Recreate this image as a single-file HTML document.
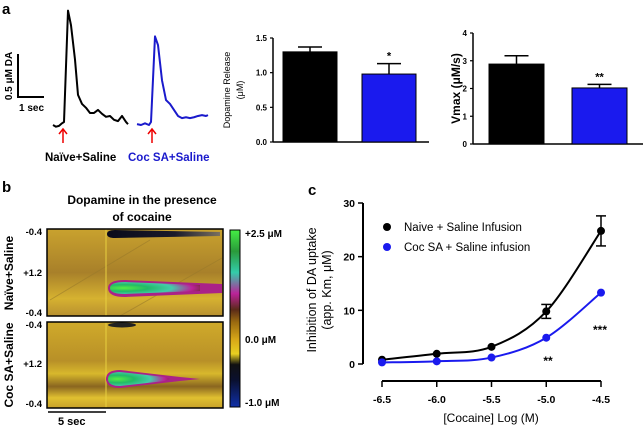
<!DOCTYPE html>
<html><head><meta charset="utf-8"><style>
body{margin:0;background:#fff;}
svg{display:block;font-family:"Liberation Sans",Arial,sans-serif;}
.b{font-weight:bold}
</style></head><body>
<svg id="fig" width="643" height="428" viewBox="0 0 643 428" xmlns="http://www.w3.org/2000/svg">
<defs>
<linearGradient id="cbar" x1="0" y1="0" x2="0" y2="1">
<stop offset="0" stop-color="#44ee44"/><stop offset="0.12" stop-color="#2a9a3a"/><stop offset="0.24" stop-color="#33ccaa"/>
<stop offset="0.36" stop-color="#bb2299"/><stop offset="0.45" stop-color="#5a2a18"/><stop offset="0.52" stop-color="#9a6a10"/>
<stop offset="0.62" stop-color="#d8a818"/><stop offset="0.7" stop-color="#e8d020"/><stop offset="0.76" stop-color="#111"/>
<stop offset="0.85" stop-color="#0a1030"/><stop offset="1" stop-color="#1030a8"/>
</linearGradient>
<linearGradient id="bg1" x1="0" y1="0" x2="0" y2="1">
<stop offset="0" stop-color="#c9a22e"/><stop offset="0.5" stop-color="#a8802a"/><stop offset="0.8" stop-color="#d6b230"/><stop offset="1" stop-color="#b89030"/>
</linearGradient>
<linearGradient id="bg2" x1="0" y1="0" x2="0" y2="1">
<stop offset="0" stop-color="#d0aa2a"/><stop offset="0.45" stop-color="#b89028"/><stop offset="0.6" stop-color="#d8b82c"/><stop offset="0.75" stop-color="#8a6620"/><stop offset="0.88" stop-color="#e0c030"/><stop offset="1" stop-color="#c8a22a"/>
</linearGradient>
<radialGradient id="blob" cx="0.15" cy="0.5" r="0.9">
<stop offset="0" stop-color="#55ee44"/><stop offset="0.3" stop-color="#22bb66"/><stop offset="0.6" stop-color="#44ccaa"/><stop offset="0.85" stop-color="#bb2299"/><stop offset="1" stop-color="#7a2a40"/>
</radialGradient>
<linearGradient id="band" x1="0" y1="0" x2="1" y2="0">
<stop offset="0" stop-color="#0a0a1a"/><stop offset="0.6" stop-color="#1a1a2a"/><stop offset="1" stop-color="#7a7060"/>
</linearGradient>
</defs>

<text x="2" y="14" class="b" font-size="15">a</text>
<g>
<line x1="18" y1="54" x2="18" y2="98" stroke="#000" stroke-width="2"/>
<line x1="17" y1="97" x2="44" y2="97" stroke="#000" stroke-width="2"/>
<text transform="translate(12,76) rotate(-90)" text-anchor="middle" font-size="10" class="b">0.5 μM DA</text>
<text x="19" y="111" font-size="10" class="b">1 sec</text>
</g>
<g id="traces"></g>
<g stroke="#e00" stroke-width="1.5" fill="none">
<line x1="63" y1="143" x2="63" y2="130"/><polyline points="59,134 63,129 67,134"/>
<line x1="152" y1="143" x2="152" y2="130"/><polyline points="148,134 152,129 156,134"/>
</g>
<text x="45" y="161" font-size="11.5" class="b">Naïve+Saline</text>
<text x="128" y="161" font-size="11.5" class="b" fill="#1a1acc">Coc SA+Saline</text>

<g id="bar1"></g>
<g id="bar2"></g>

<text x="2" y="192" class="b" font-size="15">b</text>
<text x="142" y="204" text-anchor="middle" font-size="12" class="b">Dopamine in the presence</text>
<text x="142" y="221" text-anchor="middle" font-size="12" class="b">of cocaine</text>
<g>
<rect x="47" y="229" width="176" height="87" fill="url(#bg1)"/>
<line x1="50" y1="300" x2="150" y2="240" stroke="#9a7a2a" stroke-width="1" opacity="0.6"/>
<line x1="120" y1="316" x2="222" y2="258" stroke="#9a7a2a" stroke-width="1" opacity="0.6"/>
<line x1="106" y1="229" x2="106" y2="316" stroke="#e8d040" stroke-width="1"/>
<path d="M107,234 Q107,230 115,230 L220,232 L220,236 L115,238 Q107,238 107,234Z" fill="url(#band)"/>
<path d="M108,288 Q108,280 125,280 L222,284 L222,293 L125,297 Q108,297 108,288Z" fill="#aa2288"/>
<path d="M110,288 Q110,282 125,282 L200,285 L200,291 L125,294 Q110,294 110,288Z" fill="url(#blob)"/>
<rect x="47" y="229" width="176" height="87" fill="none" stroke="#000" stroke-width="1.5"/>
</g>
<g>
<rect x="47" y="322" width="176" height="86" fill="url(#bg2)"/>
<line x1="106" y1="322" x2="106" y2="408" stroke="#e8d040" stroke-width="1"/>
<ellipse cx="122" cy="325" rx="14" ry="2.5" fill="#222"/>
<path d="M106,379 Q106,370 120,370 L180,377 L200,379 L180,381 L120,388 Q106,388 106,379Z" fill="#aa2288"/>
<path d="M108,379 Q108,372 120,372 L165,377 L170,379 L165,381 L120,386 Q108,386 108,379Z" fill="url(#blob)"/>
<rect x="47" y="322" width="176" height="86" fill="none" stroke="#000" stroke-width="1.5"/>
</g>
<g font-size="9.5" class="b" text-anchor="end">
<text x="42" y="235">-0.4</text><text x="42" y="276">+1.2</text><text x="42" y="316">-0.4</text>
<text x="42" y="328">-0.4</text><text x="42" y="367">+1.2</text><text x="42" y="407">-0.4</text>
</g>
<text transform="translate(13,273) rotate(-90)" text-anchor="middle" font-size="12" class="b">Naïve+Saline</text>
<text transform="translate(13,365) rotate(-90)" text-anchor="middle" font-size="12" class="b">Coc SA+Saline</text>
<line x1="48" y1="412" x2="106" y2="412" stroke="#000" stroke-width="1.5"/>
<text x="58" y="425" font-size="11" class="b">5 sec</text>
<g>
<rect x="230" y="230" width="10" height="177" fill="url(#cbar)" stroke="#000" stroke-width="1"/>
<text x="245" y="237" font-size="10" class="b">+2.5 μM</text>
<text x="245" y="343" font-size="10" class="b">0.0 μM</text>
<text x="245" y="406" font-size="10" class="b">-1.0 μM</text>
</g>

<text x="308" y="195" class="b" font-size="15">c</text>
<g id="curve"></g>
</svg>
<script>
const blackT=[53,56,59,62,64,68,71,75,78,82,86,90,94,98,102,106,110,114,118,122,126,128];
const blackV=[0,-0.02,-0.01,0.02,0.035,1.33,1.16,0.76,0.35,0.245,0.2,0.14,0.14,0.175,0.13,0.095,0.105,0.06,0.045,0.105,0.035,0.01];
const blueT=[137,141,145,149,151,155,158,162,166,170,174,178,182,186,190,194,198,202,206,208];
const blueV=[0.01,0,0.02,0,0.035,1.03,0.93,0.52,0.29,0.245,0.175,0.105,0.08,0.09,0.08,0.09,0.105,0.115,0.105,0.115];
const groups=["Naive+Saline","Coc SA+Saline"];
const releaseVals=[1.30,0.98];
const releaseErr=[0.07,0.15];
const releaseTicks=["0.0","0.5","1.0","1.5"];
const vmaxVals=[2.88,2.02];
const vmaxErr=[0.30,0.13];
const vmaxTicks=["0","1","2","3","4"];
const cocLog=[-6.5,-6.0,-5.5,-5.0,-4.5];
const naiveInh=[0.8,1.9,3.2,9.8,24.8];
const naiveErr=[0,0,0,1.3,2.8];
const cocInh=[0.3,0.5,1.2,4.9,13.3];
const xTicks=["-6.5","-6.0","-5.5","-5.0","-4.5"];
const yTicks=["0","10","20","30"];

const NS="http://www.w3.org/2000/svg";
function mk(tag,attrs,parent){const e=document.createElementNS(NS,tag);for(const k in attrs)e.setAttribute(k,attrs[k]);parent.appendChild(e);return e;}

const tr=document.getElementById('traces');
function traceY(v){return 125-v*86;}
function drawTrace(T,V,col,name){
  const p=mk('polyline',{points:T.map((t,i)=>t+','+traceY(V[i])).join(' '),fill:'none',stroke:col,'stroke-width':2,'stroke-linejoin':'round'},tr);
  
  
}
drawTrace(blackT,blackV,'#000','naive-trace');
drawTrace(blueT,blueV,'#1a1acc','coc-trace');

function barChart(g,vals,err,ticks,maxV,x0,x1,yTop,yBot,bars,stars,label,labelX,labelSize,bold){
  const y=v=>yBot-(v/maxV)*(yBot-yTop);
  mk('line',{x1:x0,y1:yTop,x2:x0,y2:yBot,stroke:'#000','stroke-width':1.5},g);
  mk('line',{x1:x0,y1:yBot,x2:x1,y2:yBot,stroke:'#000','stroke-width':1.5},g);
  ticks.forEach(t=>{const v=parseFloat(t);const yy=y(v);
    mk('line',{x1:x0-3,y1:yy,x2:x0,y2:yy,stroke:'#000','stroke-width':1.2},g);
    const tx=mk('text',{x:x0-6,y:yy+3,'text-anchor':'end','font-size':8,'font-weight':'bold'},g);tx.textContent=t;
    
    });
  vals.forEach((v,i)=>{const b=bars[i];
    const r=mk('rect',{x:b[0],y:y(v),width:b[1]-b[0],height:yBot-y(v),fill:i?'#1a1aee':'#000',stroke:'#000','stroke-width':1},g);
    
    
    const cx=(b[0]+b[1])/2;
    mk('line',{x1:cx,y1:y(v),x2:cx,y2:y(v+err[i]),stroke:'#000','stroke-width':1.5},g);
    mk('line',{x1:cx-12,y1:y(v+err[i]),x2:cx+12,y2:y(v+err[i]),stroke:'#000','stroke-width':1.5},g);
    if(stars[i]){const s=mk('text',{x:cx,y:y(v+err[i])-4,'text-anchor':'middle','font-size':11,'font-weight':'bold'},g);s.textContent=stars[i];
      
      }
  });
  label.forEach((l,k)=>{const t=mk('text',{transform:`translate(${labelX+k*13},${(yTop+yBot)/2}) rotate(-90)`,'text-anchor':'middle','font-size':labelSize,'font-weight':bold?'bold':'normal'},g);t.textContent=l;
    
    });
}
barChart(document.getElementById('bar1'),releaseVals,releaseErr,releaseTicks,1.5,273,429,38,142,[[283,337],[362,416]],["","*"],["Dopamine Release","(μM)"],230,9,false);
barChart(document.getElementById('bar2'),vmaxVals,vmaxErr,vmaxTicks,4,473,643,33,144,[[489,544],[572,627]],["","**"],["Vmax (μM/s)"],460,12,true);

const cg=document.getElementById('curve');
const cx=v=>382+(v+6.5)/2*(601-382);
const cy=v=>364-v/30*(364-203);
mk('line',{x1:363,y1:203,x2:363,y2:364,stroke:'#000','stroke-width':2},cg);
mk('line',{x1:382,y1:381,x2:601,y2:381,stroke:'#000','stroke-width':2},cg);
yTicks.forEach(t=>{const yy=cy(parseFloat(t));
  mk('line',{x1:358,y1:yy,x2:363,y2:yy,stroke:'#000','stroke-width':1.5},cg);
  const e=mk('text',{x:355,y:yy+4,'text-anchor':'end','font-size':10.5,'font-weight':'bold'},cg);e.textContent=t;
  
  });
xTicks.forEach(t=>{const xx=cx(parseFloat(t));
  mk('line',{x1:xx,y1:381,x2:xx,y2:387,stroke:'#000','stroke-width':1.5},cg);
  const e=mk('text',{x:xx,y:403,'text-anchor':'middle','font-size':10.5,'font-weight':'bold'},cg);e.textContent=t;
  
  });
const xt=mk('text',{x:491,y:422,'text-anchor':'middle','font-size':12},cg);xt.textContent='[Cocaine] Log (M)';


const yt1=mk('text',{transform:'translate(316,290) rotate(-90)','text-anchor':'middle','font-size':12.5},cg);yt1.textContent='Inhibition of DA uptake';


const yt2=mk('text',{transform:'translate(331,290) rotate(-90)','text-anchor':'middle','font-size':12.5},cg);yt2.textContent='(app. Km, μM)';


function smooth(X,Y){const P=X.map((x,i)=>[cx(x),cy(Y[i])]);let d='M'+P[0];
  for(let i=0;i<P.length-1;i++){const p0=P[i-1]||P[i],p1=P[i],p2=P[i+1],p3=P[i+2]||p2;
    d+=` C${p1[0]+(p2[0]-p0[0])/6},${p1[1]+(p2[1]-p0[1])/6} ${p2[0]-(p3[0]-p1[0])/6},${p2[1]-(p3[1]-p1[1])/6} ${p2[0]},${p2[1]}`;}
  return d;}
function series(Y,E,col,name){
  const p=mk('path',{d:smooth(cocLog,Y),fill:'none',stroke:col,'stroke-width':2},cg);
  
  
  Y.forEach((v,i)=>{const x=cx(cocLog[i]);
    if(E&&E[i]){mk('line',{x1:x,y1:cy(v-E[i]),x2:x,y2:cy(v+E[i]),stroke:'#000','stroke-width':1.5},cg);
      mk('line',{x1:x-5,y1:cy(v+E[i]),x2:x+5,y2:cy(v+E[i]),stroke:'#000','stroke-width':1.5},cg);
      mk('line',{x1:x-5,y1:cy(v-E[i]),x2:x+5,y2:cy(v-E[i]),stroke:'#000','stroke-width':1.5},cg);}
    const c=mk('circle',{cx:x,cy:cy(v),r:4,fill:col},cg);
    
    });
}
series(naiveInh,naiveErr,'#000','naive');
series(cocInh,null,'#1a1aee','coc-sa');
[['**',548,365],['***',600,334]].forEach(s=>{const t=mk('text',{x:s[1],y:s[2],'text-anchor':'middle','font-size':12,'font-weight':'bold'},cg);t.textContent=s[0];
  
  });
[['Naive + Saline Infusion','#000',227],['Coc SA + Saline infusion','#1a1aee',247]].forEach(l=>{
  const c=mk('circle',{cx:387,cy:l[2],r:4,fill:l[1]},cg);
  
  
  const t=mk('text',{x:404,y:l[2]+4,'font-size':11.5},cg);t.textContent=l[0];
  
  });
</script>
</body></html>
